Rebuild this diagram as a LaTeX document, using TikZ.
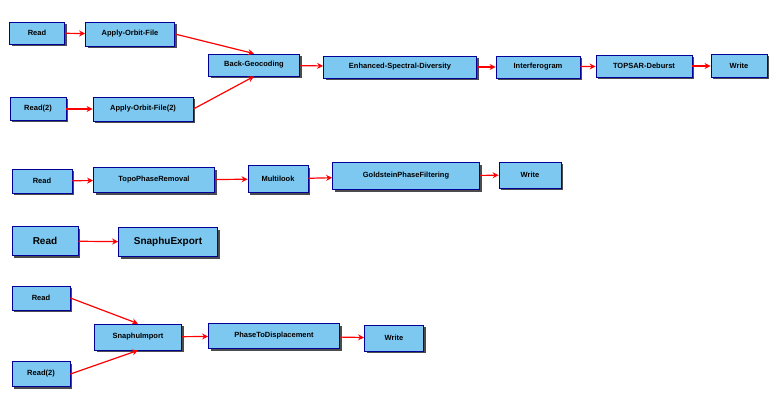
\documentclass[tikz,border=0pt]{standalone}
\usepackage{fontspec}
\setmainfont{Liberation Sans}
\usetikzlibrary{shadows,arrows.meta}
\begin{document}
\begin{tikzpicture}[x=1pt,y=-1pt,
 box/.style={draw=blue!60!black,fill={rgb,255:red,125;green,200;blue,240},line width=0.8pt,
   font=\fontsize{7.5}{9}\selectfont\bfseries,inner sep=0pt,
   drop shadow={shadow xshift=2pt,shadow yshift=-2pt,fill=black!70,opacity=1}},
 bigbox/.style={box,font=\fontsize{10}{12}\selectfont\bfseries},
 con/.style={draw=red,line width=1.2pt,-{Stealth[length=6pt,width=6pt]}}]
\useasboundingbox[fill=white] (0,0) rectangle (781,401);
\def\nb#1#2#3#4#5#6{\node[box,minimum width=#4,minimum height=#5] (#1) at (#2,#3) {#6};}
\nb{r1}{37}{33}{55}{22}{Read}
\nb{a1}{130}{34}{89}{24}{Apply-Orbit-File}
\nb{r2}{38}{109}{56}{23}{Read(2)}
\nb{a2}{143}{109}{100}{24}{Apply-Orbit-File(2)}
\nb{bg}{254}{65}{91}{22}{Back-Geocoding}
\nb{esd}{400}{67}{153}{22}{Enhanced-Spectral-Diversity}
\nb{ifg}{538}{67}{84}{22}{Interferogram}
\nb{deb}{644}{66}{96}{22}{TOPSAR-Deburst}
\nb{w1}{739}{66}{56}{23}{Write}
\draw[con] (r1) -- (a1); \draw[con] (r2) -- (a2);
\draw[con] (a1.east) -- (bg.north); \draw[con] (a2.east) -- (bg.south);
\draw[con] (bg) -- (esd); \draw[con] (esd) -- (ifg); \draw[con] (ifg) -- (deb); \draw[con] (deb) -- (w1);
\nb{r3}{42}{181}{60}{24}{Read}
\nb{tpr}{154}{180}{121}{25}{TopoPhaseRemoval}
\nb{ml}{278}{179}{60}{27}{Multilook}
\nb{gpf}{406}{176}{147}{27}{GoldsteinPhaseFiltering}
\nb{w2}{530}{175}{62}{26}{Write}
\draw[con] (r3) -- (tpr); \draw[con] (tpr) -- (ml); \draw[con] (ml) -- (gpf); \draw[con] (gpf) -- (w2);
\node[bigbox,minimum width=66,minimum height=29] (r4) at (45,241) {Read};
\node[bigbox,minimum width=99,minimum height=29] (se) at (168,242) {SnaphuExport};
\draw[con] (r4) -- (se);
\nb{r5}{41}{298}{58}{24}{Read}
\nb{r6}{41}{374}{58}{25}{Read(2)}
\nb{si}{138}{337}{87}{26}{SnaphuImport}
\nb{ptd}{274}{336}{131}{25}{PhaseToDisplacement}
\nb{w3}{394}{338}{59}{26}{Write}
\draw[con] (r5.east) -- (si.north); \draw[con] (r6.east) -- (si.south);
\draw[con] (si) -- (ptd); \draw[con] (ptd) -- (w3);
\end{tikzpicture}
\end{document}
